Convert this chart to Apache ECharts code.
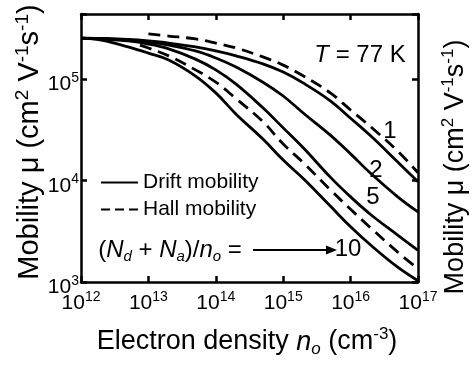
<!DOCTYPE html>
<html>
<head>
<meta charset="utf-8">
<script src="https://cdn.jsdelivr.net/npm/echarts@6/dist/echarts.min.js"></script>
<style>html,body{margin:0;padding:0;background:#fff;}#chart{width:474px;height:366px;}</style>
</head>
<body>
<div id="chart"></div>
<script>
// Electron density n_o (cm^-3)
const density = [1e12, 2e12, 5e12, 1e13, 2e13, 5e13, 1e14, 2e14, 5e14, 1e15, 2e15, 5e15, 1e16, 2e16, 5e16, 1e17];
// Drift mobility (cm^2 V^-1 s^-1) for (Nd+Na)/no = 1, 2, 5, 10
const drift1  = [2.53e5, 2.51e5, 2.45e5, 2.37e5, 2.26e5, 2.07e5, 1.89e5, 1.69e5, 1.41e5, 1.17e5, 9.1e4, 6.1e4, 4.1e4, 2.74e4, 1.52e4, 9.7e3];
const drift2  = [2.53e5, 2.51e5, 2.42e5, 2.32e5, 2.16e5, 1.89e5, 1.61e5, 1.31e5, 9.3e4, 6.8e4, 4.6e4, 2.8e4, 1.83e4, 1.17e4, 6.9e3, 4.9e3];
const drift5  = [2.53e5, 2.48e5, 2.37e5, 2.21e5, 1.98e5, 1.57e5, 1.23e5, 8.9e4, 5.2e4, 3.3e4, 2.09e4, 1.08e4, 6.9e3, 4.6e3, 2.9e3, 2.05e3];
const drift10 = [2.53e5, 2.42e5, 2.07e5, 1.80e5, 1.54e5, 1.07e5, 7.3e4, 4.5e4, 2.56e4, 1.59e4, 1.04e4, 5.6e3, 3.5e3, 2.3e3, 1.4e3, 1.03e3];
// Hall mobility
const hall1Density  = [1e13, 2e13, 5e13, 1e14, 2e14, 5e14, 1e15, 2e15, 5e15, 1e16, 2e16, 5e16, 1e17];
const hall1         = [2.78e5, 2.65e5, 2.48e5, 2.26e5, 2.02e5, 1.65e5, 1.37e5, 1.07e5, 7.3e4, 4.95e4, 3.37e4, 1.95e4, 1.19e4];
const hall10Density = [7.5e12, 1e13, 2e13, 5e13, 1e14, 2e14, 5e14, 1e15, 2e15, 5e15, 1e16, 2e16, 5e16, 1e17];
const hall10        = [2.16e5, 2.02e5, 1.69e5, 1.23e5, 9.3e4, 6.4e4, 3.8e4, 2.29e4, 1.49e4, 8.1e3, 5.2e3, 3.4e3, 1.97e3, 1.35e3];
const curveLabels = ['1', '2', '5', '10'];

const FONT = 'Liberation Sans';
const BLACK = '#000';
const pair = (xs, ys) => xs.map((x, i) => [x, ys[i]]);

function powLabel(v) {
  const e = Math.log10(v);
  const r = Math.round(e);
  if (Math.abs(e - r) > 1e-6) return '';
  return '{b|10}{s|' + r + '}';
}
const tickRich = {
  b: {fontSize: 21, lineHeight: 24, fontFamily: FONT, color: BLACK, verticalAlign: 'bottom'},
  s: {fontSize: 14, lineHeight: 14, fontFamily: FONT, color: BLACK, verticalAlign: 'top'}
};
const axLine = {lineStyle: {color: BLACK, width: 2.5}};
const axTick = {inside: true, length: 6, lineStyle: {color: BLACK, width: 2.5}};

const solid = {color: BLACK, width: 2.8};
const dashed = {color: BLACK, width: 2.8, type: [12, 7]};

function lineSeries(name, data, style) {
  return {name: name, type: 'line', data: data, symbol: 'none', smooth: 0.4,
    lineStyle: style, itemStyle: {color: BLACK}, silent: true, animation: false};
}

function makeRich(size, sup) {
  return {
    a: {fontSize: size, lineHeight: size + 5, fontFamily: FONT, color: BLACK},
    i: {fontSize: size, lineHeight: size + 5, fontFamily: FONT, color: BLACK, fontStyle: 'italic'},
    s: {fontSize: sup, lineHeight: sup, fontFamily: FONT, color: BLACK, verticalAlign: 'top'},
    sub: {fontSize: sup, lineHeight: sup, fontFamily: FONT, color: BLACK, verticalAlign: 'bottom', fontStyle: 'italic'}
  };
}
const muTitle = '{a|Mobility μ (cm}{s|2}{a| V}{s|-1}{a|s}{s|-1}{a|)}';

function txt(x, y, text, rich, opts) {
  return Object.assign({type: 'text', x: x, y: y, silent: true,
    style: {text: text, rich: rich, fill: BLACK, align: 'center', verticalAlign: 'middle'}}, opts || {});
}

const chart = echarts.init(document.getElementById('chart'), null, {renderer: 'canvas'});
chart.setOption({
  animation: false,
  backgroundColor: '#fff',
  grid: {left: 81, right: 56, top: 14, bottom: 84},
  xAxis: [
    {type: 'log', min: 1e12, max: 1e17, position: 'bottom', axisLine: axLine, axisTick: axTick,
     splitLine: {show: false}, minorTick: {show: false},
     axisLabel: {margin: 8, formatter: powLabel, rich: tickRich}},
    {type: 'log', min: 1e12, max: 1e17, position: 'top', axisLine: axLine, axisTick: axTick,
     splitLine: {show: false}, axisLabel: {show: false}}
  ],
  yAxis: [
    {type: 'log', min: 1e3, max: 4.37e5, position: 'left', axisLine: axLine, axisTick: axTick,
     splitLine: {show: false}, minorTick: {show: false},
     axisLabel: {margin: 2, padding: [8, 0, 0, 0], formatter: powLabel, rich: tickRich}},
    {type: 'log', min: 1e3, max: 4.37e5, position: 'right', axisLine: axLine, axisTick: axTick,
     splitLine: {show: false}, axisLabel: {show: false}}
  ],
  legend: {
    left: 100, top: 172, padding: 0, orient: 'vertical', itemWidth: 37, itemHeight: 14, itemGap: 6,
    selectedMode: false,
    data: [
      {name: 'Drift mobility'},
      {name: 'Hall mobility', lineStyle: {type: [9, 5]}}
    ],
    itemStyle: {opacity: 0},
    textStyle: {fontSize: 21, lineHeight: 21, color: BLACK, fontFamily: FONT}
  },
  series: [
    lineSeries('Drift mobility', pair(density, drift1), solid),
    lineSeries('Drift mobility', pair(density, drift2), solid),
    lineSeries('Drift mobility', pair(density, drift5), solid),
    lineSeries('Drift mobility', pair(density, drift10), solid),
    lineSeries('Hall mobility', pair(hall1Density, hall1), dashed),
    lineSeries('Hall mobility', pair(hall10Density, hall10), dashed)
  ],
  graphic: [
    txt(30, 142, muTitle, makeRich(29, 19), {rotation: Math.PI / 2}),
    txt(456, 167, muTitle, makeRich(27, 17), {rotation: Math.PI / 2}),
    txt(247, 342, '{a|Electron density }{i|n}{sub|o}{a| (cm}{s|-3}{a|)}', makeRich(27, 17)),
    txt(360, 55, '{i|T}{a| = 77 K}', makeRich(24, 15)),
    txt(390, 131, '{a|' + curveLabels[0] + '}', makeRich(24, 15)),
    txt(376, 170, '{a|' + curveLabels[1] + '}', makeRich(24, 15)),
    txt(373, 197, '{a|' + curveLabels[2] + '}', makeRich(24, 15)),
    txt(348, 249, '{a|' + curveLabels[3] + '}', makeRich(24, 15)),
    txt(170, 250, '{a|(}{i|N}{sub|d}{a| + }{i|N}{sub|a}{a|)/}{i|n}{sub|o}{a| =}', makeRich(24, 15)),
    {type: 'line', silent: true, shape: {x1: 253, y1: 250, x2: 330, y2: 250}, style: {stroke: BLACK, lineWidth: 1.8}},
    {type: 'polygon', silent: true, shape: {points: [[337, 250], [326, 245.5], [326, 254.5]]}, style: {fill: BLACK}}
  ]
});
</script>
</body>
</html>
